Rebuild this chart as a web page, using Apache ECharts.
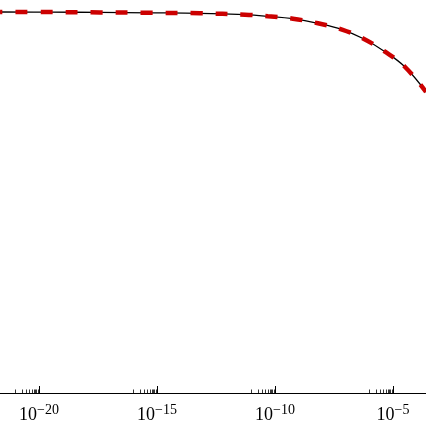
<!DOCTYPE html>
<html>
<head>
<meta charset="utf-8">
<script src="https://cdn.jsdelivr.net/npm/echarts@6/dist/echarts.min.js"></script>
<style>html,body{margin:0;padding:0;background:#fff}#c{width:426px;height:426px}</style>
</head>
<body>
<div id="c"></div>
<script>
// x values are log10(x)
var logX = [-21.65, -19.53, -17.42, -15.30, -13.18, -11.27, -10.30, -9.24, -8.18, -7.16, -6.27, -5.34, -4.49, -3.60];
var exactY = [0.9695, 0.9692, 0.9684, 0.9674, 0.9662, 0.9626, 0.9585, 0.9524, 0.9407, 0.9249, 0.9020, 0.8685, 0.8295, 0.7659];
var approxY = [0.9695, 0.9692, 0.9684, 0.9674, 0.9662, 0.9626, 0.9585, 0.9524, 0.9407, 0.9249, 0.9020, 0.8685, 0.8295, 0.7659];
var majorTicks = [-20, -15, -10, -5];
var minorMultipliers = [1, 2, 3, 4, 5, 6, 7, 8, 9];

var minorTicks = [];
majorTicks.forEach(function (k) {
  minorMultipliers.forEach(function (m) { minorTicks.push(k - 1 + Math.log10(m)); });
});
function pairs(xs, ys) { return xs.map(function (x, i) { return [x, ys[i]]; }); }

var xMin = -21.653, xMax = -3.602;
var chart = echarts.init(document.getElementById('c'));
chart.setOption({
  animation: false,
  grid: { left: 0, right: 0, top: 0, bottom: 33 },
  xAxis: [{
    type: 'value', min: xMin, max: xMax, position: 'bottom',
    splitLine: { show: false },
    axisLine: { show: true, lineStyle: { color: '#000', width: 1 } },
    axisTick: { show: true, inside: true, length: 7, customValues: majorTicks, lineStyle: { color: '#000', width: 1 } },
    axisLabel: {
      show: true, customValues: majorTicks, margin: 13, color: '#000',
      formatter: function (v) { return '{b|10}{s|\u2212' + Math.abs(Math.round(v)) + '}'; },
      rich: {
        b: { fontFamily: 'Liberation Serif', fontSize: 18, color: '#000', lineHeight: 18, verticalAlign: 'bottom' },
        s: { fontFamily: 'Liberation Serif', fontSize: 14, color: '#000', lineHeight: 14, verticalAlign: 'bottom', padding: [0, 0, 7, 0] }
      }
    }
  }, {
    type: 'value', min: xMin, max: xMax, position: 'bottom',
    splitLine: { show: false },
    axisLine: { show: false },
    axisTick: { show: true, inside: true, length: 3.5, customValues: minorTicks, lineStyle: { color: '#000', width: 0.8 } },
    axisLabel: { show: false }
  }],
  yAxis: { type: 'value', min: 0, max: 1, show: false },
  series: [{
    type: 'line', xAxisIndex: 0, data: pairs(logX, exactY), smooth: 0.4, symbol: 'none',
    lineStyle: { color: '#000', width: 1.3 }, z: 2
  }, {
    type: 'line', xAxisIndex: 0, data: pairs(logX, approxY), smooth: 0.4, symbol: 'none',
    lineStyle: { color: '#cc0000', width: 4.5, type: [12, 13], dashOffset: 9.5, cap: 'butt' }, z: 3
  }]
});
</script>
</body>
</html>
